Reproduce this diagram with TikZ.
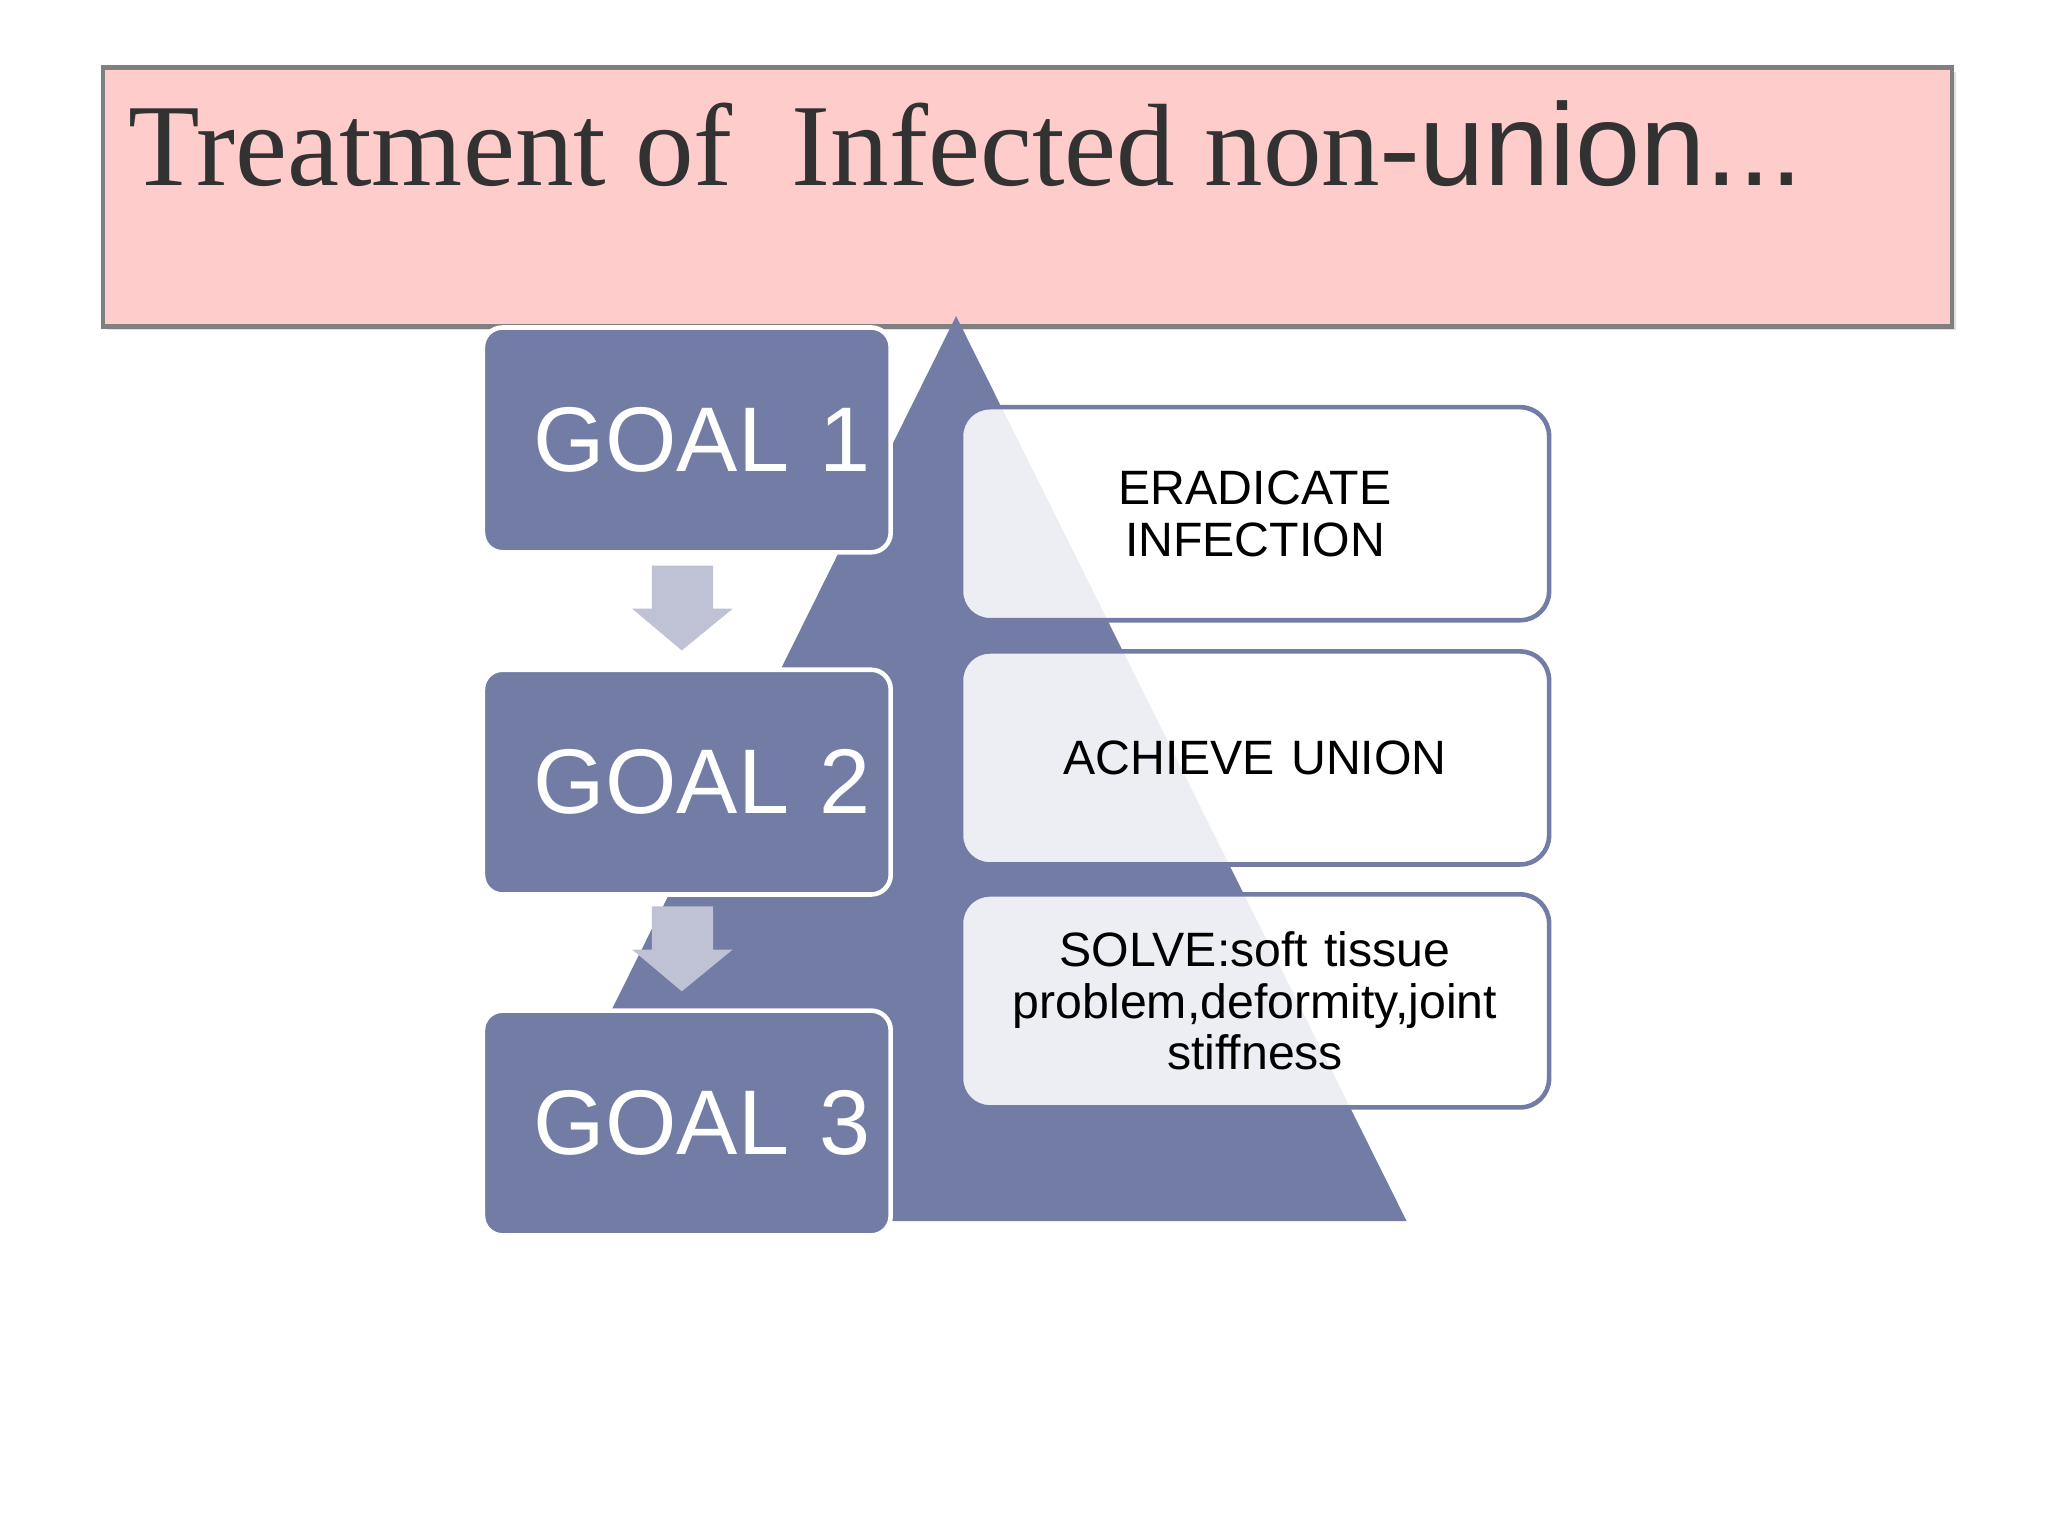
\documentclass[tikz,border=0pt]{standalone}
\usepackage{fontspec}
\setmainfont{Liberation Serif}
\setsansfont{Liberation Sans}
\usetikzlibrary{shadows}
\definecolor{pk}{RGB}{255,204,204}
\definecolor{sl}{RGB}{114,124,164}
\definecolor{ar}{RGB}{190,194,212}
\definecolor{tg}{RGB}{50,50,50}
\tikzset{
 goal/.style={draw=white,line width=1pt,fill=sl,rounded corners=0.15cm,minimum width=3.12cm,minimum height=1.72cm,anchor=north west,text=white,font=\sffamily\fontsize{20}{22}\selectfont,align=left,text width=2.9cm,inner sep=0pt},
 info/.style={draw=sl,line width=1pt,fill=white,fill opacity=0.87,text opacity=1,rounded corners=0.22cm,minimum width=4.5cm,minimum height=1.63cm,anchor=north west,font=\sffamily\fontsize{10.5}{11.2}\selectfont,align=center,text width=4.2cm},
 darr/.style={fill=ar,draw=none}
}
\begin{document}
\begin{tikzpicture}[x=0.01cm,y=-0.01cm]
\useasboundingbox (0,0) rectangle (1568,1176);
\fill[white] (0,0) rectangle (1568,1176);
\node[draw=gray,line width=1pt,fill=pk,minimum width=14.15cm,minimum height=1.98cm,anchor=north west,drop shadow={opacity=0.25,shadow xshift=0.03cm,shadow yshift=-0.03cm}] (title) at (77,50) {};
\node[anchor=base west,inner sep=0pt,text=tg] (tt) at (98,142) {\fontsize{25.5}{27}\selectfont Treatment of\ \ Infected non-\sffamily union...};
\fill[sl] (732,242) -- (1077,935) -- (388,935) -- cycle;
\node[goal] (g1) at (368,249) {\hspace*{0.28cm}GOAL 1\\[0.25cm]};
\node[goal] (g2) at (368,511) {\hspace*{0.28cm}GOAL 2\\[0.25cm]};
\node[goal] (g3) at (368,772) {\hspace*{0.28cm}GOAL 3\\[0.25cm]};
\fill[darr] (499,433) -- (546,433) -- (546,466) -- (561,466) -- (522,498) -- (484,466) -- (499,466) -- cycle;
\fill[darr] (499,694) -- (546,694) -- (546,727) -- (561,727) -- (522,759) -- (484,727) -- (499,727) -- cycle;
\node[info] (e1) at (734,310) {ERADICATE\\INFECTION};
\node[info] (e2) at (734,497) {ACHIEVE UNION};
\node[info] (e3) at (734,683) {SOLVE:soft tissue\\problem,deformity,joint\\stiffness};
\end{tikzpicture}
\end{document}
